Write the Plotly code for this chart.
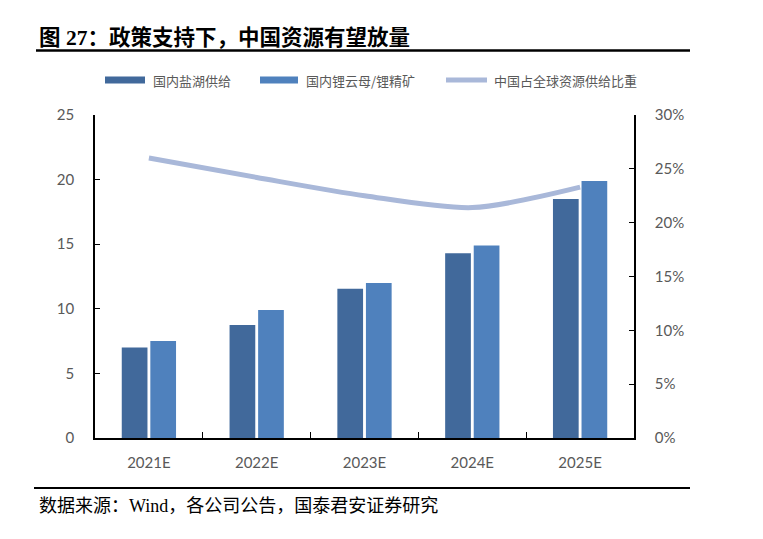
import plotly.graph_objects as go

categories = ["2021E", "2022E", "2023E", "2024E", "2025E"]
salt_lake = [7.0, 8.75, 11.55, 14.3, 18.5]
lepidolite = [7.5, 9.9, 12.0, 14.9, 19.9]
china_share = [0.260, 0.242, 0.225, 0.214, 0.233]

name_salt = "国内盐湖供给"
name_lep = "国内锂云母/锂精矿"
name_share = "中国占全球资源供给比重"
title_text = "图 27：政策支持下，中国资源有望放量"
source_text = "数据来源：Wind，各公司公告，国泰君安证券研究"

C_DARK = "#41699b"
C_LIGHT = "#4f81bd"
C_LINE = "#a9b8d9"
GREY = "#595959"

W, H = 763, 539
L, R, T, B = 95, 634, 115, 438


def px(x):
    return (x - L) / (R - L)


def py(y):
    return (B - y) / (B - T)


fig = go.Figure()
fig.add_trace(go.Bar(x=categories, y=salt_lake, name=name_salt,
                     marker=dict(color=C_DARK, line=dict(width=0)), showlegend=False))
fig.add_trace(go.Bar(x=categories, y=lepidolite, name=name_lep,
                     marker=dict(color=C_LIGHT, line=dict(width=0)), showlegend=False))
fig.add_trace(go.Scatter(x=categories, y=china_share, name=name_share, yaxis="y2",
                         mode="lines", line=dict(color=C_LINE, width=5, shape="spline", smoothing=0.8),
                         showlegend=False))

tickfont = dict(family="Lato, Liberation Sans, sans-serif", size=15, color=GREY)

fig.update_layout(
    width=W, height=H,
    margin=dict(l=L, r=W - R, t=T, b=H - B),
    paper_bgcolor="white", plot_bgcolor="white",
    barmode="group", bargap=0.47, bargroupgap=0.1,
    xaxis=dict(showline=True, linecolor="black", linewidth=1.5, ticks="inside",
               tickson="boundaries", ticklen=6, tickcolor="black", tickwidth=1.2,
               showgrid=False, tickfont=tickfont, ticklabelstandoff=10),
    yaxis=dict(range=[0, 25], dtick=5, showline=True, linecolor="black", linewidth=1.5,
               ticks="inside", ticklen=5, tickcolor="black", tickwidth=1.2,
               showgrid=False, zeroline=False, tickfont=tickfont, ticklabelstandoff=16),
    yaxis2=dict(range=[0, 0.30], dtick=0.05, tickformat=".0%", overlaying="y", side="right",
                showline=True, linecolor="black", linewidth=1.5, ticks="inside", ticklen=5,
                tickcolor="black", tickwidth=1.2, showgrid=False, zeroline=False,
                tickfont=tickfont, ticklabelstandoff=16),
)

shapes = []
annotations = []

# title and rules
annotations.append(dict(text="<b>" + title_text + "</b>", xref="paper", yref="paper",
                        x=px(37), y=py(38), xanchor="left", yanchor="middle", showarrow=False,
                        font=dict(family="Liberation Serif, Noto Sans CJK SC", size=21.5, color="black")))
shapes.append(dict(type="line", xref="paper", yref="paper", x0=px(36), x1=px(690),
                   y0=py(50.5), y1=py(50.5), line=dict(color="black", width=2.5)))
shapes.append(dict(type="line", xref="paper", yref="paper", x0=px(34), x1=px(690),
                   y0=py(488), y1=py(488), line=dict(color="black", width=2)))
annotations.append(dict(text=source_text, xref="paper", yref="paper",
                        x=px(37), y=py(506), xanchor="left", yanchor="middle", showarrow=False,
                        font=dict(family="Liberation Serif, Noto Sans CJK SC", size=18, color="black")))

# legend
leg_y = 80
legfont = dict(family="Noto Sans CJK SC", size=13, color=GREY)
shapes.append(dict(type="rect", xref="paper", yref="paper", x0=px(105), x1=px(145),
                   y0=py(leg_y - 3.5), y1=py(leg_y + 3.5), fillcolor=C_DARK, line=dict(width=0)))
annotations.append(dict(text=name_salt, xref="paper", yref="paper", x=px(151), y=py(leg_y),
                        xanchor="left", yanchor="middle", showarrow=False, font=legfont))
shapes.append(dict(type="rect", xref="paper", yref="paper", x0=px(260), x1=px(298),
                   y0=py(leg_y - 3.5), y1=py(leg_y + 3.5), fillcolor=C_LIGHT, line=dict(width=0)))
annotations.append(dict(text=name_lep, xref="paper", yref="paper", x=px(304), y=py(leg_y),
                        xanchor="left", yanchor="middle", showarrow=False, font=legfont))
shapes.append(dict(type="line", xref="paper", yref="paper", x0=px(446), x1=px(487),
                   y0=py(leg_y), y1=py(leg_y), line=dict(color=C_LINE, width=5)))
annotations.append(dict(text=name_share, xref="paper", yref="paper", x=px(492), y=py(leg_y),
                        xanchor="left", yanchor="middle", showarrow=False, font=legfont))

fig.update_layout(shapes=shapes, annotations=annotations)
fig.write_html("out.html")
